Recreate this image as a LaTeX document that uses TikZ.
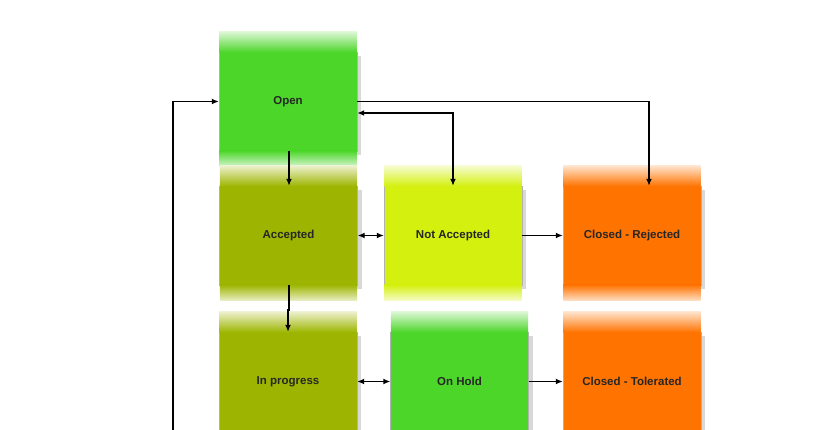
\documentclass[tikz,border=0pt]{standalone}
\usepackage{fontspec}
\setmainfont{Liberation Sans}
\usetikzlibrary{arrows.meta,shadows}
\definecolor{cgreen}{HTML}{4CD62A}
\definecolor{colive}{HTML}{9DB500}
\definecolor{clime}{HTML}{D4F00F}
\definecolor{corange}{HTML}{FF7300}
\tikzset{
  stbox/.style={draw=black!30, minimum width=138pt, minimum height=99pt, inner sep=0pt,
    drop shadow={shadow xshift=4pt, shadow yshift=-4pt, opacity=0.3}},
  lbl/.style={font=\bfseries\fontsize{11.5}{13}\selectfont, text=black!85},
  conn/.style={line width=1.8pt, -{Latex[length=7pt,width=6pt]}},
  dconn/.style={line width=1.8pt, {Latex[length=7pt,width=6pt]}-{Latex[length=7pt,width=6pt]}}
}
\begin{document}
\begin{tikzpicture}[x=1pt,y=-1pt]
\useasboundingbox[fill=white] (0,0) rectangle (818,430);
\foreach \n/\c/\x/\y/\t in {open/cgreen/288/101.5/Open, acc/colive/288.5/235.5/Accepted, nacc/clime/453/235.5/Not Accepted, crej/corange/632/235.5/Closed - Rejected, prog/colive/288/381.5/In progress, hold/cgreen/459.5/381.5/On Hold, ctol/corange/632/381.5/Closed - Tolerated}{
  \node[stbox, fill=\c] (\n) at (\x,\y) {};
  \shade[top color=white!80!\c, bottom color=\c] ([shift={(0.5pt,-0.5pt)}]\n.north west) rectangle ([shift={(-0.5pt,20pt)}]\n.north east);
  \shade[bottom color=white!75!\c, top color=\c] ([shift={(0.5pt,0.5pt)}]\n.south west) rectangle ([shift={(-0.5pt,-15pt)}]\n.south east);
  \node[lbl] at (\n.center) {\t};
}
\coordinate (start) at (173,445);
\draw[conn] (open.south -| 289,0) -- (acc.north -| 289,0);
\draw[conn] (open.east) -- (649,101.5) -- (crej.north -| 649,0);
\draw[dconn] (nacc.north) -- (453,113) -- (open.east |- 0,113);
\draw[dconn] (acc) -- (nacc);
\draw[conn] (nacc) -- (crej);
\draw[conn] (acc.south -| 289,0) -- (289,310) -- (288,310) -- (prog.north);
\draw[dconn] (prog) -- (hold);
\draw[conn] (hold) -- (ctol);
\draw[conn] (start) -- (173,101.5) -- (open.west);
\end{tikzpicture}
\end{document}
